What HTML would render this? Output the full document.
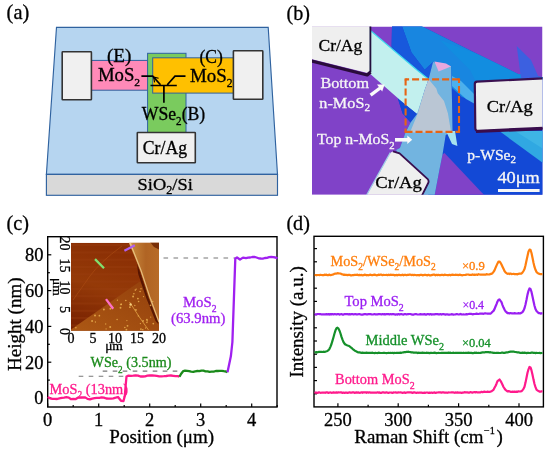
<!DOCTYPE html>
<html><head><meta charset="utf-8"><style>html,body{margin:0;padding:0;background:#fff;}svg{display:block;will-change:transform;}</style></head>
<body><svg width="550" height="453" viewBox="0 0 550 453">
<rect width="550" height="453" fill="#fff"/>
<text transform="translate(6.60,19.3) scale(0.9952,1.0000)" font-family="Liberation Serif" font-size="20.5"  stroke="#000" stroke-width="0.3">(a)</text>
<polygon points="56.5,27.3 268.2,27.3 277.5,174.4 46.4,174.4" fill="#b6d5f0" stroke="#2f629f" stroke-width="1.15"/>
<rect x="46.4" y="174.4" width="231.1" height="20.9" fill="#d9d9d9" stroke="#2f629f" stroke-width="1.15"/>
<text transform="translate(137.62,190.1) scale(1.1146,1.0400)" font-family="Liberation Serif" font-size="16.5"  stroke="#000" stroke-width="0.3">SiO<tspan font-size="11" dy="4">2</tspan><tspan dy="-4">/Si</tspan></text>
<rect x="88" y="60.4" width="60" height="29.8" fill="#ff8ab8" stroke="#2f629f" stroke-width="1"/>
<rect x="147.6" y="53.3" width="38.4" height="82" fill="#7acb5e" stroke="#2f629f" stroke-width="1"/>
<rect x="152.7" y="57.8" width="84" height="35.3" fill="#ffc000" stroke="#2f629f" stroke-width="1"/>
<rect x="62.2" y="51.8" width="29.2" height="48" rx="0.6" fill="#f0f0f0" stroke="#333" stroke-width="1.6"/>
<rect x="233.4" y="50.8" width="29.4" height="48.5" rx="0.6" fill="#f0f0f0" stroke="#333" stroke-width="1.6"/>
<rect x="137.3" y="132.5" width="58" height="30.3" rx="0.6" fill="#f0f0f0" stroke="#333" stroke-width="1.6"/>
<text transform="translate(142.79,153.9) scale(1.0116,1.0500)" font-family="Liberation Serif" font-size="17.5"  stroke="#000" stroke-width="0.3">Cr/Ag</text>
<text transform="translate(106.96,62.4) scale(1.0619,1.0000)" font-family="Liberation Serif" font-size="18"  stroke="#000" stroke-width="0.3">(E)</text>
<text transform="translate(199.41,62.7) scale(0.9739,1.0000)" font-family="Liberation Serif" font-size="18"  stroke="#000" stroke-width="0.3">(C)</text>
<text transform="translate(97.92,80.8) scale(1.0703,1.0500)" font-family="Liberation Serif" font-size="17.5"  stroke="#000" stroke-width="0.3">MoS<tspan font-size="10.8" dy="4.8">2</tspan></text>
<text transform="translate(189.90,81.5) scale(1.0811,1.0700)" font-family="Liberation Serif" font-size="17.5"  stroke="#000" stroke-width="0.3">MoS<tspan font-size="10.8" dy="4.8">2</tspan></text>
<text transform="translate(141.69,120.4) scale(1.0115,1.0700)" font-family="Liberation Serif" font-size="17.5"  stroke="#000" stroke-width="0.3">WSe<tspan font-size="11" dy="4.5">2</tspan><tspan dy="-4.5">(B)</tspan></text>
<path d="M141.4,76.2 H152.7 L160.5,84.8" stroke="#000" stroke-width="1.7" fill="none" stroke-linecap="butt"/>
<path d="M150.5,85.5 H176.8 M163.9,85.5 V102.8 M167.3,84.8 L175,76.2 H185.5" stroke="#000" stroke-width="1.7" fill="none" stroke-linecap="butt"/>
<path d="M158.6,78.3 L153.6,77.1 L154.6,82.3" stroke="#000" stroke-width="1.1" fill="none"/>
<text transform="translate(286.61,19.5) scale(0.9818,1.0000)" font-family="Liberation Serif" font-size="20.5"  stroke="#000" stroke-width="0.3">(b)</text>
<clipPath id="cb"><rect x="312" y="26.5" width="230.5" height="168.3"/></clipPath>
<g clip-path="url(#cb)">
<rect x="312" y="26.5" width="230.5" height="168.3" fill="#8042c8"/>
<polygon points="392.0,26.0 421.4,26.0 479.5,55.0 505.0,67.5 518.0,74.0 545.0,77.5 545.0,197.0 430.0,197.0 396.0,150.0 399.9,148.0 405.3,133.0 410.6,122.4 402.6,113.5 398.0,99.0 391.6,47.0" fill="#1349d6"/>
<polygon points="402.0,26.0 421.4,26.0 479.5,55.0 505.0,67.5 518.0,74.0 545.0,77.5 545.0,80.0 476.0,82.0 474.0,101.0 462.0,97.0 452.0,88.0 451.0,66.0 433.0,62.0 424.7,69.7 411.5,52.5" fill="#1886e0"/>
<polygon points="392.0,26.0 402.0,26.0 411.5,52.5 424.7,69.7 433.0,62.0 428.6,79.3 417.0,70.0 391.6,47.0" fill="#1858dc"/>
<polygon points="440.0,40.0 479.5,55.0 505.0,67.5 518.0,74.0 545.0,77.5 545.0,80.0 476.0,82.0 470.0,70.0 455.0,55.0" fill="#128ee0" opacity="0.8"/>
<polygon points="516.7,46.0 531.0,60.0 539.0,78.0 521.0,78.0" fill="#3c60e0"/>
<polygon points="452.0,76.0 461.0,81.0 475.0,95.0 475.0,104.0 466.0,99.0 452.0,86.0" fill="#4cb0ec"/>
<polygon points="499.3,131.0 545.0,131.0 545.0,164.5" fill="#30a8e2"/>
<polygon points="515.0,131.0 545.0,131.0 545.0,150.0" fill="#48bce8" opacity="0.6"/>
<polygon points="444.5,153.0 486.0,197.0 434.3,197.0 439.2,171.0 442.5,154.5" fill="#8042c8"/>
<polygon points="369.0,26.0 371.0,31.0 417.0,70.0 428.6,79.3 424.7,90.0 417.8,113.5 417.0,114.0 400.0,100.1 368.0,72.0" fill="#c2f0ee"/>
<path d="M371,31 L417,70 L428.6,79.3" stroke="#3fd8ee" stroke-width="1.2" fill="none"/>
<polygon points="398.2,99.4 417.0,114.0 410.6,122.4 402.6,113.5" fill="#1349d6"/>
<polygon points="433.0,62.0 451.0,66.0 452.0,100.0 452.5,131.0 445.7,135.0 442.5,154.5 439.2,171.0 434.3,197.0 424.0,197.0 396.0,150.0 399.9,148.0 405.3,133.0 410.6,122.4 417.0,114.0 424.7,90.0 428.6,79.3" fill="#72b4e0"/>
<polygon points="434.4,61.5 446.0,63.5 451.0,66.5 438.6,71.4" fill="#e8a8de"/>
<polygon points="428.6,79.3 436.3,88.5 437.8,93.2 444.0,100.9 447.9,113.2 451.0,131.8 446.0,132.5 430.0,132.5 410.0,132.5 417.8,113.2 424.7,90.0" fill="#bac6d4"/>
<polygon points="446.0,131.0 455.0,131.0 457.4,146.0 452.0,144.0" fill="#a6e2ee"/>
<polygon points="310.0,24.0 369.5,24.0 369.5,70.5 367.5,73.0 310.0,58.7" fill="#efefef"/>
<path d="M309,60.4 L367.2,75 L370.6,72" stroke="#2a0c3c" stroke-width="3.2" fill="none" stroke-linejoin="round"/>
<path d="M370.4,24 L370.4,72" stroke="#24103c" stroke-width="1.8" fill="none"/>
<path d="M474.8,84 Q474.8,81.8 477,81.6 L545,78.3 L545,127.8 L478,130.8 Q475.5,131 475.3,128 Z" fill="#efefef" stroke="#3a1050" stroke-width="2.2"/>
<path d="M476,131.8 L545,128.8" stroke="#3a0c4c" stroke-width="2.6" fill="none"/>
<path d="M366,197 L390.5,153 Q391.8,151 394,151.6 L399.5,153.5 L427.5,179 Q429,181 428,183 L421,197 Z" fill="#efefef"/>
<path d="M393,151.4 L399.5,153.3 L427.7,179 Q429.2,181 428.2,183 L421.2,197" stroke="#3a1050" stroke-width="1.8" fill="none"/>
<path d="M365.5,197 L390.3,152.6" stroke="#a8f0f0" stroke-width="1.2" fill="none" opacity="0.8"/>
</g>
<text transform="translate(318.48,50.7) scale(1.0310,1.0000)" font-family="Liberation Serif" font-size="17"  stroke="#000" stroke-width="0.3">Cr/Ag</text>
<text transform="translate(486.83,111.7) scale(1.0829,1.0000)" font-family="Liberation Serif" font-size="17"  stroke="#000" stroke-width="0.3">Cr/Ag</text>
<text transform="translate(375.30,187.5) scale(1.0976,1.0000)" font-family="Liberation Serif" font-size="17"  stroke="#000" stroke-width="0.3">Cr/Ag</text>
<text transform="translate(320.43,88.0) scale(1.0659,1.0000)" font-family="Liberation Serif" font-size="15.2" fill="#f6f6f6" stroke="#f6f6f6" stroke-width="0.3">Bottom</text>
<text transform="translate(319.33,107.5) scale(1.0674,1.0000)" font-family="Liberation Serif" font-size="15.2" fill="#f6f6f6" stroke="#f6f6f6" stroke-width="0.3">n-MoS<tspan font-size="10.5" dy="3.5">2</tspan></text>
<text transform="translate(316.90,144.1) scale(1.0227,1.0000)" font-family="Liberation Serif" font-size="15.5" fill="#f6f6f6" stroke="#f6f6f6" stroke-width="0.3">Top n-MoS<tspan font-size="10.5" dy="4.8">2</tspan></text>
<text transform="translate(467.18,159.5) scale(1.0413,1.0000)" font-family="Liberation Serif" font-size="15" fill="#f6f6f6" stroke="#f6f6f6" stroke-width="0.3">p-WSe<tspan font-size="10.5" dy="3.5">2</tspan></text>
<text transform="translate(497.38,182.5) scale(1.0487,1.0000)" font-family="Liberation Serif" font-size="17.5" fill="#f6f6f6" stroke="#f6f6f6" stroke-width="0.3">40μm</text>
<rect x="498" y="189" width="41.6" height="3" fill="#f6f6f6"/>
<path d="M370.6,95.2 L380.2,88" stroke="#fafafa" stroke-width="3.4"/><polygon points="384.6,84.5 377,84.6 382.2,91.6" fill="#fafafa"/>
<path d="M395,139.8 H408" stroke="#fafafa" stroke-width="3.6"/><polygon points="412.2,139.8 407.3,135.6 407.3,144" fill="#fafafa"/>
<path d="M405.6,79.4 L459,79.4" stroke="#e66414" stroke-width="2.1" fill="none" stroke-dasharray="7,3" stroke-dashoffset="3.5"/>
<path d="M459,79.4 L459,131.9" stroke="#e66414" stroke-width="2.1" fill="none" stroke-dasharray="7,3" stroke-dashoffset="3.5"/>
<path d="M459,131.9 L405.6,131.9" stroke="#e66414" stroke-width="2.1" fill="none" stroke-dasharray="7,3" stroke-dashoffset="3.5"/>
<path d="M405.6,131.9 L405.6,79.4" stroke="#e66414" stroke-width="2.1" fill="none" stroke-dasharray="7,3" stroke-dashoffset="3.5"/>
<rect x="404.55" y="78.35" width="2.1" height="2.1" fill="#e66414"/>
<rect x="457.95" y="78.35" width="2.1" height="2.1" fill="#e66414"/>
<rect x="457.95" y="130.85" width="2.1" height="2.1" fill="#e66414"/>
<rect x="404.55" y="130.85" width="2.1" height="2.1" fill="#e66414"/>
<text transform="translate(6.61,229.8) scale(0.9905,1.0000)" font-family="Liberation Serif" font-size="20.5"  stroke="#000" stroke-width="0.3">(c)</text>
<clipPath id="ci"><rect x="71" y="242.8" width="88" height="88"/></clipPath>
<g clip-path="url(#ci)">
<defs><linearGradient id="gbg" x1="0.3" y1="0" x2="0" y2="1"><stop offset="0" stop-color="#8a2e04"/><stop offset="0.45" stop-color="#953a08"/><stop offset="1" stop-color="#741e00"/></linearGradient><linearGradient id="gst" x1="0" y1="0" x2="1" y2="0"><stop offset="0" stop-color="#e4bc78"/><stop offset="0.15" stop-color="#c48238"/><stop offset="0.55" stop-color="#b06424"/><stop offset="1" stop-color="#b86c28"/></linearGradient><linearGradient id="glt" x1="0" y1="1" x2="1" y2="0"><stop offset="0" stop-color="#ac5814"/><stop offset="0.5" stop-color="#a04c10"/><stop offset="1" stop-color="#94400c"/></linearGradient></defs>
<rect x="71" y="242.8" width="88" height="88" fill="url(#gbg)"/>
<rect x="71" y="244.0" width="88" height="2.2" fill="#9a4010" opacity="0.35"/>
<rect x="71" y="251.3" width="88" height="2.2" fill="#9a4010" opacity="0.35"/>
<rect x="71" y="258.6" width="88" height="2.2" fill="#9a4010" opacity="0.35"/>
<rect x="71" y="265.9" width="88" height="2.2" fill="#9a4010" opacity="0.35"/>
<rect x="71" y="273.2" width="88" height="2.2" fill="#9a4010" opacity="0.35"/>
<rect x="71" y="280.5" width="88" height="2.2" fill="#9a4010" opacity="0.35"/>
<rect x="71" y="287.8" width="88" height="2.2" fill="#9a4010" opacity="0.35"/>
<rect x="71" y="295.1" width="88" height="2.2" fill="#9a4010" opacity="0.35"/>
<rect x="71" y="302.4" width="88" height="2.2" fill="#9a4010" opacity="0.35"/>
<rect x="71" y="309.7" width="88" height="2.2" fill="#9a4010" opacity="0.35"/>
<rect x="71" y="317.0" width="88" height="2.2" fill="#9a4010" opacity="0.35"/>
<rect x="71" y="324.3" width="88" height="2.2" fill="#9a4010" opacity="0.35"/>
<path d="M73,300 L90,276 Q100,262 122,246" stroke="#a84a12" stroke-width="1" fill="none" opacity="0.7"/>
<polygon points="71.0,331.0 71.0,329.5 139.5,281.7 149.0,292.0 159.0,323.0 159.0,331.0" fill="url(#glt)"/>
<polygon points="128.5,242.0 160.0,242.0 160.0,331.0 158.7,322.0 150.0,300.0 140.0,270.0" fill="url(#gst)"/>
<polygon points="150.0,242.0 160.0,242.0 160.0,250.0 154.0,247.0" fill="#6a2000" opacity="0.8"/>
<polygon points="137.0,264.0 139.6,271.0 148.2,297.0 158.2,322.0 158.2,324.0 155.5,321.0 146.2,298.0 138.2,274.0" fill="#4a0e00" opacity="0.8"/>
<path d="M130.2,243 L141.2,271 L149.8,297 L159,322" stroke="#f0d090" stroke-width="1.2" fill="none" opacity="0.8"/>
<path d="M129.5,302 L140,318 L148.5,330" stroke="#e8a848" stroke-width="1" fill="none" opacity="0.75"/>
<circle cx="130.6" cy="304.5" r="1.2" fill="#f4d080"/>
<circle cx="117.4" cy="300.2" r="0.62" fill="#eab050" opacity="0.85"/>
<circle cx="141.0" cy="288.8" r="0.69" fill="#eab050" opacity="0.85"/>
<circle cx="124.8" cy="327.5" r="0.83" fill="#eab050" opacity="0.85"/>
<circle cx="106.1" cy="328.9" r="0.62" fill="#eab050" opacity="0.85"/>
<circle cx="143.5" cy="296.6" r="0.66" fill="#eab050" opacity="0.85"/>
<circle cx="140.1" cy="291.5" r="0.83" fill="#eab050" opacity="0.85"/>
<circle cx="125.8" cy="300.5" r="0.82" fill="#eab050" opacity="0.85"/>
<circle cx="121.4" cy="304.3" r="0.72" fill="#eab050" opacity="0.85"/>
<circle cx="138.3" cy="315.9" r="0.70" fill="#eab050" opacity="0.85"/>
<circle cx="120.5" cy="307.7" r="0.95" fill="#eab050" opacity="0.85"/>
<circle cx="133.1" cy="296.5" r="0.99" fill="#eab050" opacity="0.85"/>
<circle cx="135.3" cy="290.1" r="0.80" fill="#eab050" opacity="0.85"/>
<circle cx="135.9" cy="309.9" r="0.95" fill="#eab050" opacity="0.85"/>
<circle cx="99.4" cy="315.7" r="0.84" fill="#eab050" opacity="0.85"/>
<circle cx="121.0" cy="304.4" r="0.94" fill="#eab050" opacity="0.85"/>
<circle cx="150.5" cy="305.3" r="0.87" fill="#eab050" opacity="0.85"/>
<circle cx="126.4" cy="329.7" r="0.93" fill="#eab050" opacity="0.85"/>
<circle cx="136.2" cy="289.1" r="0.70" fill="#eab050" opacity="0.85"/>
<circle cx="105.7" cy="324.0" r="0.63" fill="#eab050" opacity="0.85"/>
<circle cx="110.4" cy="308.8" r="0.95" fill="#eab050" opacity="0.85"/>
<circle cx="140.4" cy="323.6" r="0.71" fill="#eab050" opacity="0.85"/>
<circle cx="145.6" cy="328.0" r="0.66" fill="#eab050" opacity="0.85"/>
<circle cx="103.9" cy="309.6" r="0.98" fill="#eab050" opacity="0.85"/>
<circle cx="129.9" cy="307.2" r="0.85" fill="#eab050" opacity="0.85"/>
<circle cx="146.9" cy="319.7" r="0.95" fill="#eab050" opacity="0.85"/>
<circle cx="138.6" cy="301.4" r="0.76" fill="#eab050" opacity="0.85"/>
<circle cx="142.8" cy="329.7" r="0.79" fill="#eab050" opacity="0.85"/>
<circle cx="95.4" cy="322.0" r="0.66" fill="#eab050" opacity="0.85"/>
<circle cx="75.9" cy="327.7" r="0.81" fill="#eab050" opacity="0.85"/>
<circle cx="153.3" cy="323.6" r="0.88" fill="#eab050" opacity="0.85"/>
<circle cx="117.1" cy="319.6" r="0.73" fill="#eab050" opacity="0.85"/>
<circle cx="92.1" cy="321.1" r="0.99" fill="#eab050" opacity="0.85"/>
<circle cx="143.1" cy="320.9" r="0.93" fill="#eab050" opacity="0.85"/>
<circle cx="133.9" cy="293.7" r="0.81" fill="#eab050" opacity="0.85"/>
<circle cx="95.0" cy="315.5" r="0.98" fill="#eab050" opacity="0.85"/>
<circle cx="110.2" cy="327.0" r="1.00" fill="#eab050" opacity="0.85"/>
<circle cx="151.4" cy="300.1" r="0.69" fill="#eab050" opacity="0.85"/>
<circle cx="146.9" cy="322.5" r="0.79" fill="#eab050" opacity="0.85"/>
<circle cx="126.9" cy="320.6" r="0.63" fill="#eab050" opacity="0.85"/>
<circle cx="127.5" cy="325.8" r="0.91" fill="#eab050" opacity="0.85"/>
<circle cx="134.8" cy="305.5" r="0.67" fill="#eab050" opacity="0.85"/>
<circle cx="137.9" cy="298.6" r="0.92" fill="#eab050" opacity="0.85"/>
<circle cx="152.7" cy="301.6" r="0.76" fill="#eab050" opacity="0.85"/>
<circle cx="150.7" cy="317.1" r="0.67" fill="#eab050" opacity="0.85"/>
<circle cx="147.3" cy="320.9" r="0.66" fill="#eab050" opacity="0.85"/>
<circle cx="140.9" cy="329.1" r="0.86" fill="#eab050" opacity="0.85"/>
</g>
<line x1="95" y1="259.1" x2="104" y2="268.2" stroke="#80e070" stroke-width="2.3"/>
<line x1="106" y1="299.1" x2="113.2" y2="308.8" stroke="#ff70c8" stroke-width="2.3"/>
<line x1="124.4" y1="250.8" x2="134.8" y2="245.2" stroke="#b060f0" stroke-width="2.3"/>
<text x="71.0" y="342.5" font-family="Liberation Serif" stroke="#000" stroke-width="0.3" font-size="14" text-anchor="middle">0</text>
<text transform="translate(60,331.6) rotate(90)" font-family="Liberation Serif" stroke="#000" stroke-width="0.3" font-size="14" text-anchor="middle">0</text>
<text x="93.0" y="342.5" font-family="Liberation Serif" stroke="#000" stroke-width="0.3" font-size="14" text-anchor="middle">5</text>
<text transform="translate(60,309.6) rotate(90)" font-family="Liberation Serif" stroke="#000" stroke-width="0.3" font-size="14" text-anchor="middle">5</text>
<text x="115.0" y="342.5" font-family="Liberation Serif" stroke="#000" stroke-width="0.3" font-size="14" text-anchor="middle">10</text>
<text transform="translate(60,287.6) rotate(90)" font-family="Liberation Serif" stroke="#000" stroke-width="0.3" font-size="14" text-anchor="middle">10</text>
<text x="137.0" y="342.5" font-family="Liberation Serif" stroke="#000" stroke-width="0.3" font-size="14" text-anchor="middle">15</text>
<text transform="translate(60,265.6) rotate(90)" font-family="Liberation Serif" stroke="#000" stroke-width="0.3" font-size="14" text-anchor="middle">15</text>
<text x="159.0" y="342.5" font-family="Liberation Serif" stroke="#000" stroke-width="0.3" font-size="14" text-anchor="middle">20</text>
<text transform="translate(60,243.6) rotate(90)" font-family="Liberation Serif" stroke="#000" stroke-width="0.3" font-size="14" text-anchor="middle">20</text>
<text x="114" y="350.3" font-family="Liberation Serif" stroke="#000" stroke-width="0.3" font-size="13.5" text-anchor="middle">μm</text>
<text transform="translate(53,286.8) rotate(90)" font-family="Liberation Serif" stroke="#000" stroke-width="0.3" font-size="13.5" text-anchor="middle">μm</text>
<rect x="47.7" y="236.7" width="229.3" height="170.3" stroke="#000" stroke-width="1.4" fill="none"/>
<line x1="47.7" x2="51.300000000000004" y1="398.0" y2="398.0" stroke="#000" stroke-width="1.2"/>
<line x1="47.7" x2="49.900000000000006" y1="380.1" y2="380.1" stroke="#000" stroke-width="1.2"/>
<line x1="47.7" x2="51.300000000000004" y1="362.2" y2="362.2" stroke="#000" stroke-width="1.2"/>
<line x1="47.7" x2="49.900000000000006" y1="344.3" y2="344.3" stroke="#000" stroke-width="1.2"/>
<line x1="47.7" x2="51.300000000000004" y1="326.4" y2="326.4" stroke="#000" stroke-width="1.2"/>
<line x1="47.7" x2="49.900000000000006" y1="308.5" y2="308.5" stroke="#000" stroke-width="1.2"/>
<line x1="47.7" x2="51.300000000000004" y1="290.6" y2="290.6" stroke="#000" stroke-width="1.2"/>
<line x1="47.7" x2="49.900000000000006" y1="272.7" y2="272.7" stroke="#000" stroke-width="1.2"/>
<line x1="47.7" x2="51.300000000000004" y1="254.8" y2="254.8" stroke="#000" stroke-width="1.2"/>
<line x1="47.7" x2="47.7" y1="407.1" y2="403.5" stroke="#000" stroke-width="1.2"/>
<line x1="73.2" x2="73.2" y1="407.1" y2="404.90000000000003" stroke="#000" stroke-width="1.2"/>
<line x1="98.7" x2="98.7" y1="407.1" y2="403.5" stroke="#000" stroke-width="1.2"/>
<line x1="124.2" x2="124.2" y1="407.1" y2="404.90000000000003" stroke="#000" stroke-width="1.2"/>
<line x1="149.7" x2="149.7" y1="407.1" y2="403.5" stroke="#000" stroke-width="1.2"/>
<line x1="175.2" x2="175.2" y1="407.1" y2="404.90000000000003" stroke="#000" stroke-width="1.2"/>
<line x1="200.7" x2="200.7" y1="407.1" y2="403.5" stroke="#000" stroke-width="1.2"/>
<line x1="226.2" x2="226.2" y1="407.1" y2="404.90000000000003" stroke="#000" stroke-width="1.2"/>
<line x1="251.7" x2="251.7" y1="407.1" y2="403.5" stroke="#000" stroke-width="1.2"/>
<line x1="277.2" x2="277.2" y1="407.1" y2="404.90000000000003" stroke="#000" stroke-width="1.2"/>
<text x="43.5" y="404.3" font-family="Liberation Serif" stroke="#000" stroke-width="0.3" font-size="18.5" text-anchor="end">0</text>
<text x="43.5" y="368.5" font-family="Liberation Serif" stroke="#000" stroke-width="0.3" font-size="18.5" text-anchor="end">20</text>
<text x="43.5" y="332.7" font-family="Liberation Serif" stroke="#000" stroke-width="0.3" font-size="18.5" text-anchor="end">40</text>
<text x="43.5" y="296.9" font-family="Liberation Serif" stroke="#000" stroke-width="0.3" font-size="18.5" text-anchor="end">60</text>
<text x="43.5" y="261.1" font-family="Liberation Serif" stroke="#000" stroke-width="0.3" font-size="18.5" text-anchor="end">80</text>
<text x="47.7" y="425.6" font-family="Liberation Serif" stroke="#000" stroke-width="0.3" font-size="18.5" text-anchor="middle">0</text>
<text x="98.7" y="425.6" font-family="Liberation Serif" stroke="#000" stroke-width="0.3" font-size="18.5" text-anchor="middle">1</text>
<text x="149.7" y="425.6" font-family="Liberation Serif" stroke="#000" stroke-width="0.3" font-size="18.5" text-anchor="middle">2</text>
<text x="200.7" y="425.6" font-family="Liberation Serif" stroke="#000" stroke-width="0.3" font-size="18.5" text-anchor="middle">3</text>
<text x="251.7" y="425.6" font-family="Liberation Serif" stroke="#000" stroke-width="0.3" font-size="18.5" text-anchor="middle">4</text>
<text transform="translate(109.30,442.6) scale(1.0029,1.0000)" font-family="Liberation Serif" font-size="19"  stroke="#000" stroke-width="0.3">Position (μm)</text>
<text transform="translate(21.2,324.2) rotate(-90)" font-family="Liberation Serif" stroke="#000" stroke-width="0.3" font-size="19" text-anchor="middle">Height (nm)</text>
<line x1="78.7" y1="376.2" x2="124" y2="376.2" stroke="#777" stroke-width="1.1" stroke-dasharray="4.6,5.4"/>
<line x1="102.7" y1="371.1" x2="181" y2="371.1" stroke="#777" stroke-width="1.1" stroke-dasharray="4.6,5.4"/>
<line x1="163.5" y1="258.0" x2="235" y2="258.0" stroke="#777" stroke-width="1.1" stroke-dasharray="4.6,5.4"/>
<path d="M47.7,397.0 L50.0,398.3 L52.4,398.9 L54.7,398.8 L57.1,399.0 L59.4,398.3 L61.8,397.8 L64.1,397.6 L66.4,397.1 L68.8,397.6 L71.1,399.2 L73.5,399.0 L75.8,399.1 L78.2,397.6 L80.5,397.4 L82.8,397.5 L85.2,397.4 L87.5,398.9 L89.9,399.4 L92.2,398.6 L94.6,398.1 L96.9,397.9 L99.3,397.8 L101.6,397.3 L103.9,397.6 L106.3,398.5 L108.6,398.6 L111.0,398.7 L113.3,398.3 L115.7,397.7 L118.0,397.0 L121.0,400.8 L123.5,401.0 L124.8,396.0 L125.6,386.0 L126.5,376.5 L128.5,375.6 L131.0,375.8 L133.3,375.7 L135.7,375.3 L138.1,375.7 L140.4,376.5 L142.8,376.5 L145.1,376.3 L147.4,375.7 L149.8,375.5 L152.2,375.5 L154.5,375.7 L156.8,375.9 L159.2,376.3 L161.6,376.3 L163.9,376.2 L166.2,376.0 L168.6,375.7 L170.9,375.5 L173.3,375.8 L175.7,376.1 L178.0,376.1 L179.5,376.8" stroke="#ff1a8c" stroke-width="2.3" fill="none" stroke-linejoin="round"/>
<path d="M179.5,376.8 L181.0,374.0 L183.3,371.0 L185.0,370.6 L187.1,370.9 L189.1,371.2 L191.2,371.6 L193.2,371.8 L195.2,371.3 L197.3,371.0 L199.3,371.2 L201.4,370.6 L203.4,370.6 L205.5,371.3 L207.6,371.3 L209.6,371.8 L211.7,371.7 L213.7,371.6 L215.8,371.0 L217.8,371.0 L219.8,370.9 L221.9,370.8 L223.9,371.2 L226.0,371.5 L227.5,372.3" stroke="#1a8a1a" stroke-width="2.3" fill="none" stroke-linejoin="round"/>
<path d="M227.5,372.3 L230.9,356.0 L232.4,342.0 L235.3,258.5 L237.0,257.5 L240.0,259.5 L243.0,257.6 L246.0,258.1 L248.1,257.7 L250.2,257.5 L252.3,257.0 L254.4,256.9 L256.5,257.5 L258.6,258.3 L260.7,258.5 L262.8,258.6 L264.9,258.0 L267.0,257.8 L269.1,257.2 L271.2,257.0 L273.3,257.1 L275.4,257.5 L277.5,258.4" stroke="#a020f0" stroke-width="2.3" fill="none" stroke-linejoin="round"/>
<text transform="translate(49.61,393.5) scale(0.9897,1.0000)" font-family="Liberation Serif" font-size="14.5" fill="#ff1a8c" stroke="#ff1a8c" stroke-width="0.3">MoS<tspan font-size="9.5" dy="4.5">2</tspan><tspan dy="-4.5"> (13nm)</tspan></text>
<text transform="translate(90.61,367.3) scale(0.9756,1.0000)" font-family="Liberation Serif" font-size="14.5" fill="#1a8a1a" stroke="#1a8a1a" stroke-width="0.3">WSe<tspan font-size="9.5" dy="5.3">2</tspan><tspan dy="-5.3"> (3.5nm)</tspan></text>
<text transform="translate(182.98,307.1) scale(1.0194,1.0000)" font-family="Liberation Serif" font-size="14.5" fill="#a020f0" stroke="#a020f0" stroke-width="0.3">MoS<tspan font-size="9.5" dy="4.7">2</tspan></text>
<text transform="translate(170.98,322.6) scale(1.0154,1.0000)" font-family="Liberation Serif" font-size="14.5" fill="#a020f0" stroke="#a020f0" stroke-width="0.3">(63.9nm)</text>
<text transform="translate(286.41,229.5) scale(0.9818,1.0000)" font-family="Liberation Serif" font-size="20.5"  stroke="#000" stroke-width="0.3">(d)</text>
<rect x="314" y="236.3" width="229.4" height="170.6" stroke="#000" stroke-width="1.4" fill="none"/>
<line x1="314" x2="317" y1="393.8" y2="393.8" stroke="#000" stroke-width="1.2"/>
<line x1="314" x2="317" y1="380.6" y2="380.6" stroke="#000" stroke-width="1.2"/>
<line x1="314" x2="317" y1="367.4" y2="367.4" stroke="#000" stroke-width="1.2"/>
<line x1="314" x2="317" y1="354.2" y2="354.2" stroke="#000" stroke-width="1.2"/>
<line x1="314" x2="317" y1="341.0" y2="341.0" stroke="#000" stroke-width="1.2"/>
<line x1="314" x2="317" y1="327.8" y2="327.8" stroke="#000" stroke-width="1.2"/>
<line x1="314" x2="317" y1="314.6" y2="314.6" stroke="#000" stroke-width="1.2"/>
<line x1="314" x2="317" y1="301.4" y2="301.4" stroke="#000" stroke-width="1.2"/>
<line x1="314" x2="317" y1="288.2" y2="288.2" stroke="#000" stroke-width="1.2"/>
<line x1="314" x2="317" y1="275.0" y2="275.0" stroke="#000" stroke-width="1.2"/>
<line x1="314" x2="317" y1="261.8" y2="261.8" stroke="#000" stroke-width="1.2"/>
<line x1="314" x2="317" y1="248.6" y2="248.6" stroke="#000" stroke-width="1.2"/>
<line x1="337.9" x2="337.9" y1="406.9" y2="403.29999999999995" stroke="#000" stroke-width="1.2"/>
<line x1="368.1" x2="368.1" y1="406.9" y2="404.7" stroke="#000" stroke-width="1.2"/>
<line x1="398.2" x2="398.2" y1="406.9" y2="403.29999999999995" stroke="#000" stroke-width="1.2"/>
<line x1="428.4" x2="428.4" y1="406.9" y2="404.7" stroke="#000" stroke-width="1.2"/>
<line x1="458.6" x2="458.6" y1="406.9" y2="403.29999999999995" stroke="#000" stroke-width="1.2"/>
<line x1="488.8" x2="488.8" y1="406.9" y2="404.7" stroke="#000" stroke-width="1.2"/>
<line x1="519.0" x2="519.0" y1="406.9" y2="403.29999999999995" stroke="#000" stroke-width="1.2"/>
<text x="337.9" y="425.6" font-family="Liberation Serif" stroke="#000" stroke-width="0.3" font-size="18.5" text-anchor="middle">250</text>
<text x="398.2" y="425.6" font-family="Liberation Serif" stroke="#000" stroke-width="0.3" font-size="18.5" text-anchor="middle">300</text>
<text x="458.6" y="425.6" font-family="Liberation Serif" stroke="#000" stroke-width="0.3" font-size="18.5" text-anchor="middle">350</text>
<text x="519.0" y="425.6" font-family="Liberation Serif" stroke="#000" stroke-width="0.3" font-size="18.5" text-anchor="middle">400</text>
<text transform="translate(354.30,443.2) scale(0.9952,1.0000)" font-family="Liberation Serif" font-size="19"  stroke="#000" stroke-width="0.3">Raman Shift (cm<tspan font-size="10.3" dy="-9.6" dx="0.6">−1</tspan><tspan dy="9.6" dx="1.6">)</tspan></text>
<text transform="translate(302.5,321.8) rotate(-90)" font-family="Liberation Serif" stroke="#000" stroke-width="0.3" font-size="19" text-anchor="middle">Intensity (a.u.)</text>
<path d="M314.5,275.0 L315.5,275.0 L316.5,275.3 L317.5,275.0 L318.5,275.0 L319.5,275.1 L320.5,274.8 L321.5,275.0 L322.5,275.1 L323.5,275.2 L324.5,274.7 L325.5,274.9 L326.5,274.7 L327.5,275.2 L328.5,275.1 L329.5,274.6 L330.5,275.2 L331.5,275.0 L332.5,274.6 L333.5,274.4 L334.5,273.8 L335.5,273.5 L336.5,273.6 L337.5,273.2 L338.5,273.3 L339.5,273.5 L340.5,273.5 L341.5,274.1 L342.5,274.3 L343.5,274.8 L344.5,274.7 L345.5,274.9 L346.5,274.9 L347.5,275.1 L348.5,274.9 L349.5,274.8 L350.5,275.3 L351.5,275.3 L352.5,275.2 L353.5,275.1 L354.5,274.9 L355.5,274.8 L356.5,274.9 L357.5,274.7 L358.5,275.2 L359.5,274.9 L360.5,275.2 L361.5,274.9 L362.5,275.3 L363.5,275.2 L364.5,274.7 L365.5,274.8 L366.5,275.3 L367.5,275.0 L368.5,275.3 L369.5,274.9 L370.5,274.7 L371.5,275.1 L372.5,275.2 L373.5,274.8 L374.5,274.7 L375.5,274.9 L376.5,275.3 L377.5,275.2 L378.5,274.7 L379.5,274.8 L380.5,274.7 L381.5,274.7 L382.5,275.2 L383.5,274.8 L384.5,275.0 L385.5,275.0 L386.5,274.8 L387.5,275.2 L388.5,274.7 L389.5,275.1 L390.5,274.7 L391.5,274.9 L392.5,274.8 L393.5,274.8 L394.5,275.3 L395.5,275.2 L396.5,274.9 L397.5,275.3 L398.5,274.8 L399.5,274.9 L400.5,275.2 L401.5,275.1 L402.5,274.7 L403.5,275.3 L404.5,274.8 L405.5,274.8 L406.5,275.2 L407.5,274.9 L408.5,274.9 L409.5,274.7 L410.5,274.7 L411.5,275.1 L412.5,274.8 L413.5,275.1 L414.5,274.9 L415.5,275.0 L416.5,275.3 L417.5,275.0 L418.5,275.1 L419.5,275.3 L420.5,274.8 L421.5,274.8 L422.5,275.3 L423.5,275.2 L424.5,274.8 L425.5,274.8 L426.5,275.2 L427.5,275.3 L428.5,274.8 L429.5,275.3 L430.5,275.3 L431.5,275.1 L432.5,274.9 L433.5,274.7 L434.5,274.7 L435.5,275.3 L436.5,274.8 L437.5,275.1 L438.5,274.8 L439.5,275.2 L440.5,275.1 L441.5,274.9 L442.5,274.8 L443.5,275.2 L444.5,274.7 L445.5,274.8 L446.5,275.0 L447.5,275.2 L448.5,275.1 L449.5,274.8 L450.5,275.3 L451.5,274.8 L452.5,274.7 L453.5,274.8 L454.5,275.0 L455.5,274.7 L456.5,274.8 L457.5,274.9 L458.5,275.1 L459.5,274.7 L460.5,274.9 L461.5,275.2 L462.5,275.3 L463.5,275.0 L464.5,275.0 L465.5,274.9 L466.5,274.6 L467.5,274.5 L468.5,274.5 L469.5,275.0 L470.5,274.9 L471.5,275.0 L472.5,274.4 L473.5,274.8 L474.5,274.6 L475.5,274.8 L476.5,274.5 L477.5,274.9 L478.5,274.2 L479.5,274.5 L480.5,274.7 L481.5,274.7 L482.5,274.6 L483.5,274.6 L484.5,274.6 L485.5,274.7 L486.5,274.2 L487.5,274.4 L488.5,274.5 L489.5,274.4 L490.5,273.9 L491.5,273.8 L492.5,273.2 L493.5,271.9 L494.5,270.3 L495.5,267.9 L496.5,265.6 L497.5,263.4 L498.5,261.5 L499.5,261.5 L500.5,262.7 L501.5,264.5 L502.5,266.7 L503.5,268.8 L504.5,271.0 L505.5,272.3 L506.5,273.1 L507.5,273.8 L508.5,273.5 L509.5,274.1 L510.5,273.6 L511.5,274.1 L512.5,274.0 L513.5,273.8 L514.5,274.1 L515.5,274.0 L516.5,274.1 L517.5,274.3 L518.5,273.8 L519.5,273.6 L520.5,273.7 L521.5,273.6 L522.5,272.5 L523.5,271.0 L524.5,269.1 L525.5,265.3 L526.5,260.6 L527.5,256.0 L528.5,251.6 L529.5,249.7 L530.5,249.9 L531.5,253.0 L532.5,257.7 L533.5,262.7 L534.5,266.9 L535.5,269.8 L536.5,272.0 L537.5,272.9 L538.5,273.4 L539.5,273.9 L540.5,274.2 L541.5,274.2 L542.5,274.1" stroke="#ff7f0e" stroke-width="2.2" fill="none" stroke-linejoin="round"/>
<path d="M314.5,314.3 L315.5,314.4 L316.5,314.4 L317.5,314.0 L318.5,314.0 L319.5,314.2 L320.5,314.1 L321.5,314.5 L322.5,314.4 L323.5,314.4 L324.5,314.3 L325.5,314.4 L326.5,314.1 L327.5,314.3 L328.5,314.1 L329.5,314.6 L330.5,314.0 L331.5,314.5 L332.5,314.0 L333.5,314.4 L334.5,314.2 L335.5,314.2 L336.5,314.5 L337.5,314.0 L338.5,314.0 L339.5,314.6 L340.5,314.3 L341.5,314.0 L342.5,314.6 L343.5,314.6 L344.5,314.0 L345.5,314.2 L346.5,314.0 L347.5,314.2 L348.5,314.4 L349.5,314.1 L350.5,314.4 L351.5,314.0 L352.5,314.1 L353.5,314.5 L354.5,314.2 L355.5,314.2 L356.5,314.4 L357.5,314.3 L358.5,314.2 L359.5,314.0 L360.5,314.5 L361.5,314.6 L362.5,314.6 L363.5,314.4 L364.5,314.2 L365.5,314.2 L366.5,314.4 L367.5,314.4 L368.5,314.0 L369.5,314.1 L370.5,314.2 L371.5,314.3 L372.5,314.5 L373.5,314.3 L374.5,314.0 L375.5,314.5 L376.5,314.3 L377.5,314.3 L378.5,314.1 L379.5,314.2 L380.5,314.2 L381.5,314.5 L382.5,314.0 L383.5,314.3 L384.5,314.1 L385.5,314.4 L386.5,314.0 L387.5,314.1 L388.5,314.2 L389.5,314.4 L390.5,314.0 L391.5,314.3 L392.5,314.1 L393.5,314.1 L394.5,314.3 L395.5,314.6 L396.5,314.3 L397.5,314.6 L398.5,314.1 L399.5,314.6 L400.5,314.2 L401.5,314.1 L402.5,314.5 L403.5,314.6 L404.5,314.0 L405.5,314.1 L406.5,314.5 L407.5,314.2 L408.5,314.1 L409.5,314.0 L410.5,314.0 L411.5,314.4 L412.5,314.6 L413.5,314.6 L414.5,314.3 L415.5,314.0 L416.5,314.2 L417.5,314.5 L418.5,314.5 L419.5,314.4 L420.5,314.1 L421.5,314.3 L422.5,314.3 L423.5,314.4 L424.5,314.1 L425.5,314.6 L426.5,314.6 L427.5,314.1 L428.5,314.2 L429.5,314.6 L430.5,314.1 L431.5,314.6 L432.5,314.3 L433.5,314.4 L434.5,314.4 L435.5,314.1 L436.5,314.1 L437.5,314.1 L438.5,314.4 L439.5,314.4 L440.5,314.0 L441.5,314.6 L442.5,314.2 L443.5,314.1 L444.5,314.3 L445.5,314.6 L446.5,314.3 L447.5,314.4 L448.5,314.6 L449.5,314.6 L450.5,314.5 L451.5,314.2 L452.5,314.4 L453.5,314.6 L454.5,314.5 L455.5,314.4 L456.5,314.2 L457.5,314.2 L458.5,314.5 L459.5,314.3 L460.5,313.9 L461.5,314.4 L462.5,314.5 L463.5,314.4 L464.5,314.5 L465.5,314.4 L466.5,314.2 L467.5,314.3 L468.5,314.0 L469.5,313.8 L470.5,313.9 L471.5,313.9 L472.5,314.3 L473.5,314.1 L474.5,314.0 L475.5,314.0 L476.5,313.6 L477.5,313.9 L478.5,314.0 L479.5,313.7 L480.5,313.6 L481.5,313.7 L482.5,313.6 L483.5,313.8 L484.5,313.4 L485.5,313.4 L486.5,313.5 L487.5,313.7 L488.5,313.7 L489.5,313.6 L490.5,313.6 L491.5,312.8 L492.5,311.8 L493.5,310.9 L494.5,309.1 L495.5,306.5 L496.5,304.2 L497.5,301.5 L498.5,299.8 L499.5,299.4 L500.5,300.8 L501.5,302.2 L502.5,305.1 L503.5,307.6 L504.5,309.6 L505.5,311.3 L506.5,312.1 L507.5,313.1 L508.5,313.1 L509.5,313.4 L510.5,313.0 L511.5,313.3 L512.5,313.4 L513.5,313.5 L514.5,313.1 L515.5,313.3 L516.5,313.5 L517.5,313.5 L518.5,313.1 L519.5,313.3 L520.5,313.3 L521.5,312.7 L522.5,312.1 L523.5,310.6 L524.5,308.3 L525.5,304.4 L526.5,299.8 L527.5,294.6 L528.5,290.8 L529.5,288.4 L530.5,289.0 L531.5,291.9 L532.5,296.4 L533.5,301.2 L534.5,305.7 L535.5,309.1 L536.5,311.0 L537.5,312.0 L538.5,313.1 L539.5,313.0 L540.5,313.6 L541.5,313.4 L542.5,313.2" stroke="#9a1ff2" stroke-width="2.2" fill="none" stroke-linejoin="round"/>
<path d="M314.5,352.2 L315.5,352.3 L316.5,352.2 L317.5,352.3 L318.5,351.9 L319.5,351.9 L320.5,351.8 L321.5,351.8 L322.5,352.0 L323.5,351.7 L324.5,351.8 L325.5,351.6 L326.5,351.3 L327.5,350.9 L328.5,350.2 L329.5,348.8 L330.5,346.6 L331.5,344.0 L332.5,340.6 L333.5,337.2 L334.5,333.5 L335.5,330.3 L336.5,328.3 L337.5,327.7 L338.5,328.6 L339.5,330.7 L340.5,333.5 L341.5,336.9 L342.5,339.7 L343.5,342.1 L344.5,343.6 L345.5,344.6 L346.5,345.1 L347.5,345.5 L348.5,345.8 L349.5,346.2 L350.5,347.1 L351.5,347.9 L352.5,348.8 L353.5,349.6 L354.5,350.4 L355.5,351.1 L356.5,351.5 L357.5,352.1 L358.5,352.3 L359.5,352.4 L360.5,352.6 L361.5,352.8 L362.5,352.7 L363.5,352.9 L364.5,352.9 L365.5,352.8 L366.5,352.7 L367.5,352.9 L368.5,352.8 L369.5,352.8 L370.5,352.8 L371.5,352.8 L372.5,352.7 L373.5,353.0 L374.5,353.1 L375.5,352.9 L376.5,353.0 L377.5,353.1 L378.5,352.7 L379.5,352.8 L380.5,353.0 L381.5,353.0 L382.5,353.0 L383.5,352.8 L384.5,352.9 L385.5,353.0 L386.5,353.1 L387.5,353.0 L388.5,352.8 L389.5,353.0 L390.5,352.8 L391.5,353.0 L392.5,352.8 L393.5,353.1 L394.5,352.9 L395.5,353.0 L396.5,352.8 L397.5,352.9 L398.5,352.9 L399.5,352.9 L400.5,352.7 L401.5,352.8 L402.5,352.5 L403.5,352.3 L404.5,352.1 L405.5,352.2 L406.5,351.8 L407.5,351.8 L408.5,351.7 L409.5,352.0 L410.5,352.1 L411.5,352.3 L412.5,352.3 L413.5,352.6 L414.5,352.6 L415.5,352.6 L416.5,352.6 L417.5,353.1 L418.5,352.7 L419.5,352.8 L420.5,352.8 L421.5,352.9 L422.5,352.7 L423.5,352.9 L424.5,352.8 L425.5,353.0 L426.5,352.7 L427.5,352.8 L428.5,352.9 L429.5,353.1 L430.5,352.9 L431.5,352.9 L432.5,353.0 L433.5,352.8 L434.5,352.7 L435.5,352.9 L436.5,353.1 L437.5,353.0 L438.5,352.8 L439.5,353.0 L440.5,353.0 L441.5,352.8 L442.5,352.9 L443.5,352.8 L444.5,352.8 L445.5,352.8 L446.5,352.8 L447.5,352.8 L448.5,352.7 L449.5,352.9 L450.5,352.7 L451.5,353.0 L452.5,352.9 L453.5,352.7 L454.5,353.0 L455.5,352.8 L456.5,352.9 L457.5,352.9 L458.5,352.8 L459.5,352.8 L460.5,352.9 L461.5,352.8 L462.5,353.0 L463.5,352.7 L464.5,353.0 L465.5,352.8 L466.5,352.8 L467.5,352.9 L468.5,352.7 L469.5,352.8 L470.5,352.8 L471.5,352.9 L472.5,353.1 L473.5,353.1 L474.5,352.7 L475.5,352.9 L476.5,352.7 L477.5,353.0 L478.5,352.8 L479.5,353.0 L480.5,352.8 L481.5,352.6 L482.5,352.4 L483.5,352.4 L484.5,352.5 L485.5,352.1 L486.5,352.1 L487.5,352.0 L488.5,352.1 L489.5,352.3 L490.5,352.2 L491.5,352.5 L492.5,352.7 L493.5,352.9 L494.5,352.8 L495.5,353.0 L496.5,352.8 L497.5,352.9 L498.5,352.9 L499.5,353.0 L500.5,353.0 L501.5,352.7 L502.5,352.7 L503.5,352.8 L504.5,352.8 L505.5,352.6 L506.5,352.4 L507.5,352.5 L508.5,352.1 L509.5,351.8 L510.5,351.6 L511.5,351.5 L512.5,351.7 L513.5,351.5 L514.5,351.8 L515.5,352.0 L516.5,352.2 L517.5,352.3 L518.5,352.3 L519.5,352.6 L520.5,352.8 L521.5,352.8 L522.5,352.7 L523.5,352.9 L524.5,352.7 L525.5,352.8 L526.5,353.1 L527.5,352.9 L528.5,352.8 L529.5,353.0 L530.5,352.9 L531.5,352.7 L532.5,352.7 L533.5,352.8 L534.5,352.8 L535.5,353.1 L536.5,352.8 L537.5,353.0 L538.5,353.0 L539.5,352.9 L540.5,353.1 L541.5,353.0 L542.5,352.9" stroke="#15902a" stroke-width="2.2" fill="none" stroke-linejoin="round"/>
<path d="M314.5,392.3 L315.5,392.7 L316.5,392.7 L317.5,392.9 L318.5,392.4 L319.5,392.4 L320.5,392.8 L321.5,392.7 L322.5,392.5 L323.5,392.7 L324.5,392.5 L325.5,392.8 L326.5,392.3 L327.5,392.4 L328.5,392.9 L329.5,392.5 L330.5,392.4 L331.5,392.8 L332.5,392.7 L333.5,392.4 L334.5,392.6 L335.5,392.7 L336.5,392.4 L337.5,392.7 L338.5,392.3 L339.5,392.5 L340.5,392.3 L341.5,392.4 L342.5,392.9 L343.5,392.5 L344.5,392.9 L345.5,392.6 L346.5,392.7 L347.5,392.9 L348.5,392.7 L349.5,392.3 L350.5,392.7 L351.5,392.7 L352.5,392.4 L353.5,392.3 L354.5,392.9 L355.5,392.6 L356.5,392.4 L357.5,392.6 L358.5,392.4 L359.5,392.8 L360.5,392.6 L361.5,392.3 L362.5,392.8 L363.5,392.3 L364.5,392.4 L365.5,392.3 L366.5,392.8 L367.5,392.3 L368.5,392.6 L369.5,392.3 L370.5,392.6 L371.5,392.7 L372.5,392.6 L373.5,392.6 L374.5,392.6 L375.5,392.6 L376.5,392.7 L377.5,392.3 L378.5,392.6 L379.5,392.4 L380.5,392.9 L381.5,392.9 L382.5,392.3 L383.5,392.4 L384.5,392.7 L385.5,392.7 L386.5,392.3 L387.5,392.7 L388.5,392.9 L389.5,392.5 L390.5,392.5 L391.5,392.6 L392.5,392.9 L393.5,392.4 L394.5,392.5 L395.5,392.4 L396.5,392.7 L397.5,392.6 L398.5,392.4 L399.5,392.5 L400.5,392.3 L401.5,392.5 L402.5,392.9 L403.5,392.7 L404.5,392.4 L405.5,392.9 L406.5,392.5 L407.5,392.4 L408.5,392.3 L409.5,392.4 L410.5,392.4 L411.5,392.4 L412.5,392.9 L413.5,392.4 L414.5,392.4 L415.5,392.7 L416.5,392.9 L417.5,392.5 L418.5,392.8 L419.5,392.5 L420.5,392.6 L421.5,392.7 L422.5,392.9 L423.5,392.8 L424.5,392.6 L425.5,392.8 L426.5,392.5 L427.5,392.5 L428.5,392.9 L429.5,392.6 L430.5,392.8 L431.5,392.5 L432.5,392.9 L433.5,392.7 L434.5,392.4 L435.5,392.9 L436.5,392.6 L437.5,392.5 L438.5,392.4 L439.5,392.3 L440.5,392.4 L441.5,392.7 L442.5,392.3 L443.5,392.4 L444.5,392.6 L445.5,392.6 L446.5,392.5 L447.5,392.8 L448.5,392.4 L449.5,392.5 L450.5,392.5 L451.5,392.3 L452.5,392.4 L453.5,392.4 L454.5,392.8 L455.5,392.4 L456.5,392.7 L457.5,392.4 L458.5,392.7 L459.5,392.7 L460.5,392.5 L461.5,392.9 L462.5,392.6 L463.5,392.6 L464.5,392.2 L465.5,392.4 L466.5,392.3 L467.5,392.4 L468.5,392.7 L469.5,392.6 L470.5,392.0 L471.5,392.4 L472.5,392.6 L473.5,392.3 L474.5,392.0 L475.5,392.5 L476.5,392.1 L477.5,392.5 L478.5,392.4 L479.5,392.3 L480.5,392.4 L481.5,391.8 L482.5,392.2 L483.5,391.9 L484.5,391.7 L485.5,391.9 L486.5,392.0 L487.5,391.6 L488.5,391.8 L489.5,392.0 L490.5,391.6 L491.5,391.3 L492.5,390.5 L493.5,389.9 L494.5,387.8 L495.5,386.0 L496.5,383.7 L497.5,381.1 L498.5,380.3 L499.5,379.5 L500.5,380.8 L501.5,382.6 L502.5,384.8 L503.5,387.0 L504.5,388.5 L505.5,389.9 L506.5,390.6 L507.5,391.5 L508.5,391.1 L509.5,391.3 L510.5,391.9 L511.5,391.8 L512.5,391.7 L513.5,391.9 L514.5,391.6 L515.5,391.8 L516.5,391.6 L517.5,391.9 L518.5,391.3 L519.5,391.5 L520.5,391.4 L521.5,391.2 L522.5,390.2 L523.5,388.9 L524.5,386.7 L525.5,382.6 L526.5,377.8 L527.5,372.8 L528.5,369.3 L529.5,366.9 L530.5,367.4 L531.5,370.4 L532.5,374.7 L533.5,379.6 L534.5,384.0 L535.5,387.2 L536.5,389.7 L537.5,390.5 L538.5,390.9 L539.5,391.7 L540.5,391.6 L541.5,391.3 L542.5,391.7" stroke="#ff1a8c" stroke-width="2.2" fill="none" stroke-linejoin="round"/>
<text transform="translate(330.60,265.7) scale(0.9952,1.0000)" font-family="Liberation Serif" font-size="14.3" fill="#ff7f0e" stroke="#ff7f0e" stroke-width="0.3">MoS<tspan font-size="9.5" dy="4.6">2</tspan><tspan dy="-4.6">/WSe</tspan><tspan font-size="9.5" dy="4.6">2</tspan><tspan dy="-4.6">/MoS</tspan><tspan font-size="9.5" dy="4.6">2</tspan></text>
<text transform="translate(461.88,269.8) scale(1.0737,1.0000)" font-family="Liberation Serif" font-size="11.8" fill="#ff7f0e" stroke="#ff7f0e" stroke-width="0.3">×0.9</text>
<text transform="translate(344.50,305.9) scale(1.0052,1.0000)" font-family="Liberation Serif" font-size="14.5" fill="#9a1ff2" stroke="#9a1ff2" stroke-width="0.3">Top MoS<tspan font-size="9.8" dy="5">2</tspan></text>
<text transform="translate(462.38,309.1) scale(1.0150,1.0000)" font-family="Liberation Serif" font-size="11.8" fill="#9a1ff2" stroke="#9a1ff2" stroke-width="0.3">×0.4</text>
<text transform="translate(365.47,344.5) scale(1.0227,1.0000)" font-family="Liberation Serif" font-size="14.2" fill="#15902a" stroke="#15902a" stroke-width="0.3">Middle WSe<tspan font-size="9.8" dy="5">2</tspan></text>
<text transform="translate(461.91,346.8) scale(1.0560,1.0000)" font-family="Liberation Serif" font-size="11.8" fill="#15902a" stroke="#15902a" stroke-width="0.3">×0.04</text>
<text transform="translate(335.08,384) scale(1.0118,1.0000)" font-family="Liberation Serif" font-size="14.2" fill="#ff1a8c" stroke="#ff1a8c" stroke-width="0.3">Bottom MoS<tspan font-size="9.8" dy="5">2</tspan></text>
</svg></body></html>
